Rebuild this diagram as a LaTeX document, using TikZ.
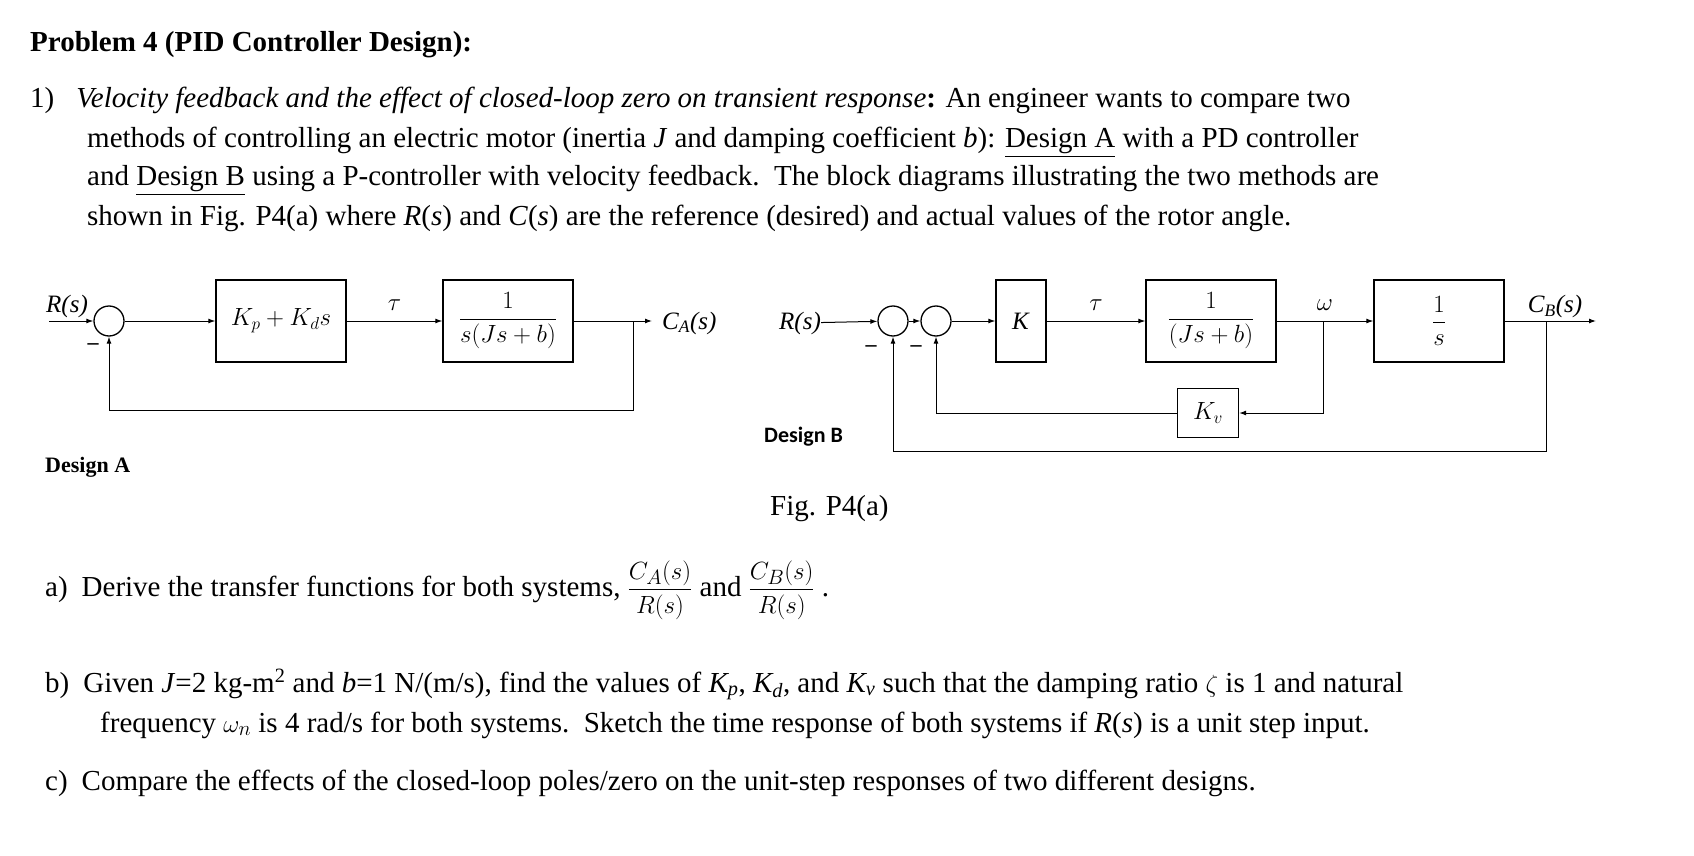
\documentclass[tikz,border=0pt]{standalone}
\usepackage{amsmath}
\usepackage{fontspec}
\setmainfont{Liberation Serif}
\newfontfamily\carlitofont{Carlito}
\usetikzlibrary{arrows.meta}
\begin{document}
\begin{tikzpicture}[x=1pt,y=-1pt,
  txt/.style={anchor=base west,inner sep=0pt,font=\fontsize{29}{35}\selectfont},
  lab/.style={inner sep=0pt,font=\fontsize{25}{30}\selectfont},
  blk/.style={draw,line width=1.3pt,inner sep=0pt},
  sum/.style={draw,circle,line width=1.3pt,minimum size=30pt,inner sep=0pt},
  ar/.style={line width=1pt,-{Latex[length=7pt,width=5pt]}}]
\useasboundingbox (0,0) rectangle (1694,856);
% text
\node[txt] (t0) at (30,52) {\textbf{Problem 4 (PID Controller Design):}};
\node[txt] (t1) at (30,108) {1)\hspace{22pt}\textit{Velocity feedback and the effect of closed-loop zero on transient response}\textbf{:} An engineer wants to compare two};
\node[txt] (t2) at (87,147) {methods of controlling an electric motor (inertia \textit{J} and damping coefficient \textit{b}): \underline{Design A} with a PD controller};
\node[txt] (t3) at (87,185) {and \underline{Design B} using a P-controller with velocity feedback.\ \ The block diagrams illustrating the two methods are};
\node[txt] (t4) at (87,225) {shown in Fig. P4(a) where \textit{R}(\textit{s}) and \textit{C}(\textit{s}) are the reference (desired) and actual values of the rotor angle.};
\node[txt] (fig) at (770,515) {Fig. P4(a)};
\node[txt] (ta) at (45,596) {a)\hspace{14pt}Derive the transfer functions for both systems, $\displaystyle\frac{C_A(s)}{R(s)}$ and $\displaystyle\frac{C_B(s)}{R(s)}$ .};
\node[txt] (tb) at (45,692) {b)\hspace{14pt}Given \textit{J}=2 kg-m\textsuperscript{2} and \textit{b}=1 N/(m/s), find the values of \textit{K\textsubscript{p}}, \textit{K\textsubscript{d}}, and \textit{K\textsubscript{v}} such that the damping ratio $\zeta$ is 1 and natural};
\node[txt] (tb2) at (100,732) {frequency $\omega_n$ is 4 rad/s for both systems.\ \ Sketch the time response of both systems if \textit{R}(\textit{s}) is a unit step input.};
\node[txt] (tc) at (45,790) {c)\hspace{14pt}Compare the effects of the closed-loop poles/zero on the unit-step responses of two different designs.};
% Design A
\node[sum] (sa) at (109,321) {};
\node[blk,minimum width=130pt,minimum height=82pt] (pd) at (281,321) {\fontsize{25}{30}\selectfont $K_p+K_d s$};
\node[blk,minimum width=130pt,minimum height=82pt] (pa) at (508,321) {\fontsize{25}{30}\selectfont $\dfrac{1}{s(Js+b)}$};
\coordinate (ina) at (49,321);
\coordinate (outa) at (652,321);
\coordinate (bra) at (633,321);
\draw[ar] (ina) -- (sa);
\draw[ar] (sa) -- (pd);
\draw[ar] (pd) -- node[lab,above=10pt] (taua) {$\tau$} (pa);
\draw[ar] (pa) -- (outa);
\draw[ar] (bra) |- (109,410) -- (sa);
\node[lab,anchor=south] (ra) at (67,318) {\textit{R(s)}};
\node[lab,anchor=west] (ca) at (662,323) {\textit{C\textsubscript{A}(s)}};
\node[font=\fontsize{22}{26}\selectfont\bfseries,inner sep=0pt] (ma) at (93,347) {--};
\node[font=\fontsize{22}{26}\selectfont\bfseries,anchor=west,inner sep=0pt] (da) at (45,467) {Design A};
% Design B
\node[lab] (rb) at (800,323) {\textit{R(s)}};
\node[sum] (s1) at (893,321) {};
\node[sum] (s2) at (936,321) {};
\node[blk,minimum width=50pt,minimum height=82pt] (kb) at (1021,321) {\fontsize{25}{30}\selectfont\textit{K}};
\node[blk,minimum width=130pt,minimum height=82pt] (pb) at (1211,321) {\fontsize{25}{30}\selectfont $\dfrac{1}{(Js+b)}$};
\node[blk,minimum width=130pt,minimum height=82pt] (ib) at (1439,321) {\fontsize{25}{30}\selectfont $\dfrac{1}{s}$};
\node[blk,minimum width=61pt,minimum height=49pt] (kv) at (1208,413) {\fontsize{25}{30}\selectfont $K_v$};
\coordinate (outb) at (1596,321);
\coordinate (brw) at (1323,321);
\coordinate (brc) at (1546,321);
\draw[ar] (rb) -- (s1);
\draw[ar] (s1) -- (s2);
\draw[ar] (s2) -- (kb);
\draw[ar] (kb) -- node[lab,above=10pt] (taub) {$\tau$} (pb);
\draw[ar] (pb) -- node[lab,above=10pt] (om) {$\omega$} (ib);
\draw[ar] (ib) -- (outb);
\draw[ar] (brw) |- (kv);
\draw[ar] (kv) -| (s2);
\draw[ar] (brc) |- (893,451) -- (s1);
\node[lab,anchor=south] (cb) at (1555,318) {\textit{C\textsubscript{B}(s)}};
\node[font=\fontsize{22}{26}\selectfont\bfseries,inner sep=0pt] (m1) at (871,349) {--};
\node[font=\fontsize{22}{26}\selectfont\bfseries,inner sep=0pt] (m2) at (916,349) {--};
\node[font=\fontsize{22}{26}\selectfont\bfseries\carlitofont,anchor=west,inner sep=0pt] (db) at (764,437) {Design B};
\end{tikzpicture}
\end{document}
